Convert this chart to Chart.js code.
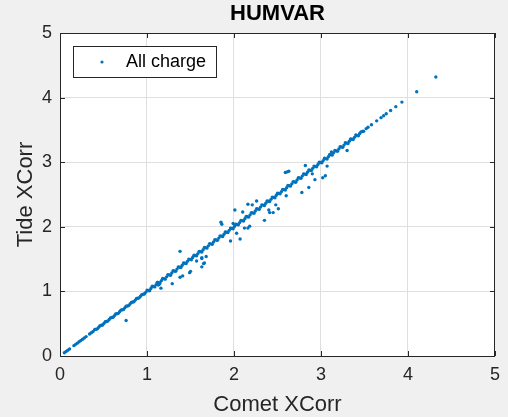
<!DOCTYPE html>
<html>
<head>
<meta charset="utf-8">
<script src="https://cdn.jsdelivr.net/npm/chart.js@4.4.1/dist/chart.umd.min.js"></script>
<style>
  html, body { margin:0; padding:0; background:#f0f0f0; }
  canvas { display:block; }
</style>
</head>
<body>
<canvas id="c" width="508" height="417"></canvas>
<script>
// points on (or very near) the diagonal
const diagX = [0.05,0.07,0.09,0.11,0.16,0.18,0.20,0.22,0.24,0.26,0.28,0.30,0.34,0.36,0.38,
  0.40,0.43,0.46,0.49,0.52,0.55,0.58,0.61,0.64,0.67,0.70,0.73,0.76,0.79,0.82,0.85,0.88,0.91,0.94,0.97,
  1.00,1.03,1.06,1.09,1.12,1.15,1.18,1.21,1.24,1.27,1.30,1.33,1.36,1.39,1.42,1.45,1.48,1.51,1.54,1.57,
  1.60,1.63,1.66,1.69,1.72,1.75,1.78,1.81,1.84,1.87,1.90,1.93,1.96,1.99,2.02,2.05,2.08,2.11,2.14,2.17,
  2.20,2.23,2.26,2.29,2.32,2.35,2.38,2.41,2.44,2.47,2.50,2.53,2.56,2.59,2.62,2.65,2.68,2.71,2.74,2.77,
  2.80,2.83,2.86,2.89,2.92,2.95,2.98,3.01,3.04,3.07,3.10,3.13,3.16,3.19,3.22,3.25,3.28,3.31,3.34,3.37,
  3.40,3.43,3.46,3.49,
  3.52,3.54,3.58,3.64,3.69,3.72,3.75,3.80,3.86,3.93,4.10,4.32];
const diagY = [0.05,0.07,0.09,0.11,0.16,0.18,0.20,0.22,0.24,0.26,0.28,0.30,0.34,0.36,0.38,
  0.41,0.42,0.47,0.48,0.53,0.54,0.59,0.60,0.65,0.66,0.71,0.72,0.77,0.78,0.83,0.84,0.89,0.90,0.95,0.96,
  1.02,1.01,1.08,1.07,1.14,1.13,1.20,1.19,1.26,1.25,1.32,1.31,1.38,1.37,1.44,1.43,1.50,1.49,1.56,1.55,
  1.62,1.61,1.68,1.67,1.74,1.73,1.80,1.79,1.86,1.85,1.92,1.91,1.98,1.97,2.04,2.03,2.10,2.09,2.16,2.15,
  2.22,2.21,2.28,2.27,2.34,2.33,2.40,2.39,2.46,2.45,2.52,2.51,2.58,2.57,2.64,2.63,2.70,2.69,2.76,2.75,
  2.82,2.81,2.88,2.87,2.94,2.93,3.00,2.99,3.06,3.05,3.12,3.11,3.18,3.17,3.24,3.23,3.30,3.29,3.36,3.35,
  3.42,3.41,3.47,3.48,
  3.52,3.54,3.58,3.64,3.69,3.72,3.75,3.80,3.86,3.93,4.09,4.32];

// the dense middle of the band (Tide == Comet)
const midX = [0.415,0.445,0.475,0.505,0.535,0.565,0.595,0.625,0.655,0.685,0.715,0.745,0.775,0.805,0.835,0.865,0.895,0.925,0.955,0.985,
  1.015,1.045,1.075,1.105,1.135,1.165,1.195,1.225,1.255,1.285,1.315,1.345,1.375,1.405,1.435,1.465,1.495,1.525,1.555,1.585,
  1.615,1.645,1.675,1.705,1.735,1.765,1.795,1.825,1.855,1.885,1.915,1.945,1.975,2.005,2.035,2.065,2.095,2.125,2.155,2.185,
  2.215,2.245,2.275,2.305,2.335,2.365,2.395,2.425,2.455,2.485,2.515,2.545,2.575,2.605,2.635,2.665,2.695,2.725,2.755,2.785,
  2.815,2.845,2.875,2.905,2.935,2.965,2.995,3.025,3.055,3.085,3.115,3.145,3.175,3.205,3.235,3.265,3.295,3.325,3.355,3.385,
  3.415,3.445,3.475];
const midY = [0.415,0.445,0.475,0.505,0.535,0.565,0.595,0.625,0.655,0.685,0.715,0.745,0.775,0.805,0.835,0.865,0.895,0.925,0.955,0.985,
  1.015,1.045,1.075,1.105,1.135,1.165,1.195,1.225,1.255,1.285,1.315,1.345,1.375,1.405,1.435,1.465,1.495,1.525,1.555,1.585,
  1.615,1.645,1.675,1.705,1.735,1.765,1.795,1.825,1.855,1.885,1.915,1.945,1.975,2.005,2.035,2.065,2.095,2.125,2.155,2.185,
  2.215,2.245,2.275,2.305,2.335,2.365,2.395,2.425,2.455,2.485,2.515,2.545,2.575,2.605,2.635,2.665,2.695,2.725,2.755,2.785,
  2.815,2.845,2.875,2.905,2.935,2.965,2.995,3.025,3.055,3.085,3.115,3.145,3.175,3.205,3.235,3.265,3.295,3.325,3.355,3.385,
  3.415,3.445,3.475];

// scattered points off the diagonal
const offX = [0.76,1.13,1.16,1.14,1.12,1.29,1.38,1.41,1.49,1.50,1.38,
  1.57,1.63,1.65,1.63,1.68,1.66,1.63,
  1.85,1.86,1.96,2.03,2.07,2.12,2.16,2.18,1.99,
  2.01,2.10,2.16,2.21,2.26,
  2.35,2.40,2.41,2.45,2.48,2.51,
  2.60,2.59,2.61,2.63,
  2.78,2.82,2.86,2.90,2.93,3.02,3.05,3.07,3.12,3.30];
const offY = [0.55,1.10,1.05,1.11,1.14,1.12,1.22,1.24,1.29,1.31,1.62,
  1.47,1.38,1.43,1.52,1.54,1.44,1.51,
  2.07,2.04,1.78,1.90,1.81,1.98,1.98,2.01,2.05,
  2.26,2.23,2.35,2.34,2.40,
  2.10,2.26,2.22,2.22,2.34,2.28,
  2.48,2.84,2.85,2.86,
  2.53,2.95,2.61,2.82,2.73,2.76,2.79,2.94,3.16,3.18];

const axisTicks = [0,1,2,3,4,5];
const seriesName = 'All charge';
const titleText = 'HUMVAR';

const pts = [];
diagX.forEach((x,i) => pts.push({x:x, y:diagY[i]}));
midX.forEach((x,i) => pts.push({x:x, y:midY[i]}));
offX.forEach((x,i) => pts.push({x:x, y:offY[i]}));

const blue = '#0072bd', ink = '#262626';
const font = 'Liberation Sans, Arial, sans-serif';

// gray figure, white axes, box, inward ticks, title and legend, MATLAB style
const matlabLook = {
  id:'matlabLook',
  beforeDraw(chart) {
    const {ctx, chartArea:a} = chart;
    ctx.save();
    ctx.fillStyle = '#f0f0f0';
    ctx.fillRect(0, 0, chart.width, chart.height);
    ctx.fillStyle = '#ffffff';
    ctx.fillRect(a.left, a.top, a.right-a.left, a.bottom-a.top);
    ctx.restore();
  },
  afterDraw(chart) {
    const {ctx, chartArea:a} = chart;
    const sx = chart.scales.x, sy = chart.scales.y;
    ctx.save();
    ctx.strokeStyle = ink;
    ctx.lineWidth = 1;
    ctx.strokeRect(a.left+0.5, a.top+0.5, a.right-a.left-1, a.bottom-a.top);
    ctx.beginPath();
    axisTicks.forEach(v => {
      const px = Math.round(sx.getPixelForValue(v))+0.5;
      ctx.moveTo(px, a.bottom); ctx.lineTo(px, a.bottom-5);
      ctx.moveTo(px, a.top); ctx.lineTo(px, a.top+5);
      const py = Math.round(sy.getPixelForValue(v))+0.5;
      ctx.moveTo(a.left, py); ctx.lineTo(a.left+5, py);
      ctx.moveTo(a.right, py); ctx.lineTo(a.right-5, py);
    });
    ctx.stroke();

    // title centred over the axes
    ctx.fillStyle = '#000000';
    ctx.font = 'bold 22px ' + font;
    ctx.textAlign = 'center';
    ctx.textBaseline = 'alphabetic';
    ctx.fillText(titleText, (a.left+a.right)/2, 20);

    // legend box top-left inside axes
    const lx = a.left+13, ly = a.top+13, lw = 143, lh = 31;
    ctx.fillStyle = '#ffffff';
    ctx.fillRect(lx, ly, lw, lh);
    ctx.strokeRect(lx+0.5, ly+0.5, lw, lh);
    ctx.fillStyle = blue;
    ctx.beginPath();
    ctx.arc(lx+29, ly+16, 1.6, 0, Math.PI*2);
    ctx.fill();
    ctx.fillStyle = '#000000';
    ctx.font = '18px ' + font;
    ctx.textAlign = 'left';
    ctx.textBaseline = 'middle';
    ctx.fillText(seriesName, lx+53, ly+16);
    ctx.restore();
  }
};

new Chart(document.getElementById('c'), {
  type:'scatter',
  data:{ datasets:[{ label:seriesName, data:pts, backgroundColor:blue, borderWidth:0,
    pointRadius:1.7, pointHoverRadius:1.7 }] },
  options:{
    responsive:false, animation:false, devicePixelRatio:1,
    layout:{ padding:{ left:0, right:12, top:33, bottom:0 } },
    plugins:{ legend:{ display:false }, tooltip:{ enabled:false }, title:{ display:false } },
    scales:{
      x:{ type:'linear', min:0, max:5,
        afterFit:s => { s.height = 61; },
        ticks:{ stepSize:1, color:ink, padding:8, font:{ family:font, size:18 } },
        grid:{ color:'#dfdfdf', drawTicks:false },
        border:{ display:false },
        title:{ display:true, text:'Comet XCorr', color:ink, padding:{ top:0, bottom:0 },
          font:{ family:font, size:22, lineHeight:1.1 } } },
      y:{ type:'linear', min:0, max:5,
        afterFit:s => { s.width = 60; },
        ticks:{ stepSize:1, color:ink, padding:8, font:{ family:font, size:18 } },
        grid:{ color:'#dfdfdf', drawTicks:false },
        border:{ display:false },
        title:{ display:true, text:'Tide XCorr', color:ink, padding:{ top:14, bottom:0 },
          font:{ family:font, size:22, lineHeight:1.1 } } }
    }
  },
  plugins:[matlabLook]
});
</script>
</body>
</html>
